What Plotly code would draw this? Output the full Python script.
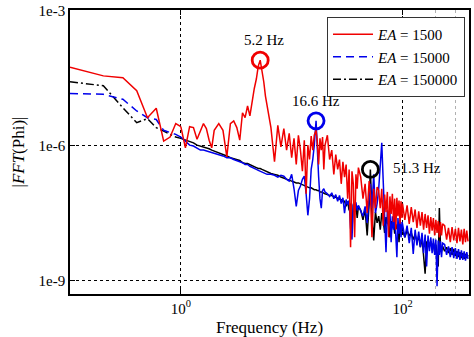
import math
import plotly.graph_objects as go

# Frequency grid (Hz) shared by the three spectra
freq_hz = [
    0.1, 0.2, 0.3, 0.4, 0.5, 0.6, 0.7, 0.8, 0.9, 1.0,
    1.1, 1.2, 1.3, 1.4, 1.5, 1.6, 1.7, 1.8, 1.9, 2.0,
    2.2, 2.4, 2.6, 2.8, 3.0, 3.2, 3.4, 3.6, 3.8, 4.0,
    4.2, 4.4, 4.6, 4.8, 5.0, 5.2, 5.4, 5.6, 5.8, 6.0,
    6.5, 7, 7.5, 8, 8.5, 9, 9.5, 10, 10.5, 11, 11.5, 12, 12.5, 13,
    13.5, 14, 14.5, 15, 15.5, 16, 16.6, 17, 17.5, 18, 18.5, 19, 19.5, 20,
    21, 22, 23, 24, 25, 26, 27, 28, 29, 30,
    31, 32, 33, 34, 35, 36, 37, 38, 39, 40,
    42, 44, 46, 48, 50, 51.3, 53, 55, 57, 59,
    61, 63, 65, 67, 69, 71, 73, 75, 77, 79,
    81, 83, 85, 87, 89, 91, 93, 95, 97, 99,
    100, 105, 110, 115, 120, 125, 130, 135, 140, 145, 150, 155, 160, 165,
    170, 175, 180, 185, 190, 195, 200, 205, 210, 215, 220, 225, 230,
    240, 250, 260, 270, 280, 290, 300, 310, 320, 330, 340, 350, 360, 370, 380, 390,
]

# log10 |FFT(Phi)| for each cable stiffness EA
log_fft_ea1500 = [
    -4.26, -4.45, -4.49, -4.78, -5.38, -5.17, -5.90, -5.81, -5.51, -5.58,
    -6.05, -5.58, -5.60, -5.86, -5.66, -5.51, -5.62, -5.88, -6.05, -5.66,
    -5.51, -5.66, -6.25, -5.51, -5.45, -5.60, -5.88, -5.27, -5.38, -5.12,
    -5.34, -5.01, -4.73, -4.52, -4.23, -4.10, -4.32, -4.58, -4.90, -5.12,
    -5.60, -6.36, -5.55, -6.03, -5.62, -6.10, -5.73, -6.27, -5.84, -6.42, -5.77, -6.10, -6.57, -5.88,
    -7.07, -5.99, -6.31, -5.79, -6.10, -5.77, -5.66, -5.88, -6.42, -5.84, -6.10, -5.81, -6.53, -5.99,
    -5.77, -6.31, -6.10, -6.64, -6.20, -6.53, -6.31, -6.85, -6.36, -6.70,
    -6.42, -7.18, -6.53, -8.26, -6.57, -6.85, -8.04, -6.64, -6.96, -6.49,
    -6.70, -7.18, -6.85, -7.50, -6.79, -7.07, -8.04, -6.96, -7.39, -6.92,
    -7.00, -7.39, -6.96, -7.78, -7.09, -7.48, -7.03, -8.04, -7.13, -7.52,
    -7.07, -7.70, -7.18, -7.87, -7.16, -7.57, -7.22, -7.74, -7.24, -7.61,
    -7.29, -7.65, -7.33, -7.74, -7.37, -7.70, -7.42, -7.83, -7.46, -7.78, -7.48, -7.87, -7.52, -7.83,
    -7.55, -7.96, -7.59, -7.89, -7.61, -8.00, -7.65, -7.94, -7.68, -8.04, -7.70, -8.00, -7.74,
    -7.78, -8.09, -7.83, -8.15, -7.81, -8.11, -7.85, -8.17, -7.83, -8.13, -7.87, -8.20, -7.85, -8.15, -7.89, -8.13,
]

log_fft_ea15000 = [
    -4.84, -4.86, -4.97, -5.23, -5.38, -5.42, -5.66, -5.71, -5.75, -5.81,
    -5.90, -5.99, -6.01, -6.05, -6.10, -6.10, -6.12, -6.14, -6.16, -6.16,
    -6.20, -6.23, -6.27, -6.27, -6.31, -6.33, -6.36, -6.38, -6.42, -6.42,
    -6.46, -6.49, -6.51, -6.53, -6.55, -6.57, -6.59, -6.62, -6.64, -6.64,
    -6.64, -6.66, -6.70, -6.66, -6.68, -6.75, -6.79, -6.64, -6.96, -7.35, -7.00, -6.90, -6.75, -6.68,
    -7.07, -7.55, -7.18, -6.53, -6.31, -5.99, -5.45, -6.10, -6.68, -7.18, -7.39, -7.00, -6.96, -7.03,
    -7.07, -7.13, -7.05, -7.18, -7.09, -7.24, -7.11, -7.29, -7.16, -7.50,
    -7.20, -7.31, -7.22, -7.83, -8.09, -7.29, -7.39, -7.26, -7.44, -7.33,
    -7.44, -7.57, -7.35, -7.72, -7.18, -6.85, -7.39, -6.64, -7.50, -7.29,
    -6.96, -6.53, -5.94, -6.79, -7.65, -8.37, -7.44, -7.78, -7.48, -8.15,
    -7.57, -7.87, -7.52, -7.91, -8.48, -7.61, -7.96, -7.65, -8.04, -7.70,
    -7.74, -8.04, -7.78, -8.17, -7.83, -8.41, -7.87, -8.22, -7.91, -8.26, -7.94, -8.39, -7.98, -8.69,
    -8.00, -8.35, -8.04, -8.39, -8.07, -8.43, -8.09, -9.13, -8.11, -8.43, -8.13, -8.48, -8.17,
    -8.20, -8.43, -8.24, -8.48, -8.26, -8.50, -8.28, -8.52, -8.30, -8.54, -8.33, -8.54, -8.35, -8.56, -8.37, -8.52,
]

log_fft_ea150000 = [
    -4.58, -4.67, -5.16, -5.49, -5.40, -5.60, -5.68, -5.75, -5.81, -5.84,
    -5.88, -5.92, -5.94, -5.99, -6.01, -6.03, -6.05, -6.07, -6.10, -6.12,
    -6.16, -6.20, -6.23, -6.27, -6.29, -6.31, -6.33, -6.38, -6.40, -6.40,
    -6.42, -6.44, -6.46, -6.49, -6.51, -6.51, -6.53, -6.55, -6.57, -6.57,
    -6.62, -6.64, -6.66, -6.70, -6.72, -6.75, -6.77, -6.79, -6.81, -6.83, -6.83, -6.85, -6.88, -6.90,
    -6.90, -6.92, -6.94, -6.94, -6.96, -6.98, -6.98, -7.00, -7.00, -7.03, -7.03, -7.05, -7.05, -7.07,
    -7.09, -7.11, -7.11, -7.13, -7.16, -7.18, -7.18, -7.20, -7.22, -7.24,
    -7.35, -7.24, -7.44, -7.29, -7.87, -7.31, -7.48, -7.33, -7.61, -7.35,
    -7.44, -7.65, -7.42, -8.00, -7.29, -6.53, -7.50, -8.11, -7.48, -7.72,
    -7.57, -7.87, -7.50, -7.65, -7.94, -7.59, -7.74, -7.63, -8.04, -7.68,
    -7.78, -7.70, -7.96, -7.74, -7.85, -7.76, -8.15, -7.81, -7.89, -7.83,
    -7.87, -8.04, -7.89, -8.00, -7.94, -8.09, -7.98, -8.13, -8.02, -8.26, -8.04, -8.52, -8.85, -8.15,
    -8.11, -8.24, -8.13, -8.28, -8.17, -8.37, -8.20, -8.43, -8.69, -7.39, -8.22, -8.35, -8.24,
    -8.35, -8.26, -8.39, -8.28, -8.43, -8.30, -8.45, -8.35, -8.48, -8.37, -8.50, -8.39, -8.52, -8.41, -8.50, -8.43,
]

# Dominant peak of each spectrum (Hz)
peak_freqs = [5.2, 16.6, 51.3]
peak_texts = ["5.2 Hz", "16.6 Hz", "51.3 Hz"]

# Decade ticks on the amplitude axis
y_tick_vals = [1e-9, 1e-6, 1e-3]
y_tick_text = ["1e-9", "1e-6", "1e-3"]

amp_ea1500 = [10 ** v for v in log_fft_ea1500]
amp_ea15000 = [10 ** v for v in log_fft_ea15000]
amp_ea150000 = [10 ** v for v in log_fft_ea150000]

RED = "rgb(240,0,0)"
BLUE = "rgb(0,0,235)"
BLACK = "rgb(0,0,0)"
FONT = "Liberation Serif, Times New Roman, serif"

# Dash patterns only read as dashes on the sparse low-frequency part;
# the dense part of the spectrum is drawn as a continuous stroke.
split = freq_hz.index(1.0) + 1

fig = go.Figure()


def add_spectrum(amps, name, color, dash, rank):
    fig.add_trace(go.Scatter(
        x=freq_hz[:split], y=amps[:split], mode="lines", name=name,
        legendgroup=name, legendrank=rank,
        line=dict(color=color, width=1.5, dash=dash),
    ))
    fig.add_trace(go.Scatter(
        x=freq_hz[split - 1:], y=amps[split - 1:], mode="lines", name=name,
        legendgroup=name, showlegend=False,
        line=dict(color=color, width=1.5, dash="solid"),
    ))


# Stiffest cable drawn first so the softer spectra sit on top of it
add_spectrum(amp_ea150000, "<i>EA</i> = 150000", BLACK, "8px,3px,2px,3px", 3)
add_spectrum(amp_ea15000, "<i>EA</i> = 15000", BLUE, "8px,5px", 2)
add_spectrum(amp_ea1500, "<i>EA</i> = 1500", RED, "solid", 1)

# Circle each dominant peak and label its frequency
series = [(amp_ea1500, RED), (amp_ea15000, BLUE), (amp_ea150000, BLACK)]
label_shift = [(4, 20), (0, 20), (47, 1)]
for f, txt, (amps, col), (dx, dy) in zip(peak_freqs, peak_texts, series, label_shift):
    a = amps[freq_hz.index(f)]
    fig.add_trace(go.Scatter(
        x=[f], y=[a], mode="markers", showlegend=False, hoverinfo="skip",
        marker=dict(symbol="circle-open", size=16, color=col, line=dict(width=2.8, color=col)),
    ))
    fig.add_annotation(
        x=math.log10(f), y=math.log10(a), text=txt, showarrow=False,
        xshift=dx, yshift=dy, font=dict(family=FONT, size=15, color="black"),
    )

fig.update_layout(
    width=474, height=337,
    margin=dict(l=70, r=3, t=7, b=39),
    paper_bgcolor="white", plot_bgcolor="white",
    font=dict(family=FONT, size=15, color="black"),
    legend=dict(
        x=0.99, y=0.975, xanchor="right", yanchor="top",
        bgcolor="white", bordercolor="#333333", borderwidth=1,
        font=dict(family=FONT, size=15), tracegroupgap=0, itemwidth=40,
    ),
    xaxis=dict(
        type="log", range=[-1, 2.6],
        tickvals=[1, 100], ticktext=["10<sup>0</sup>", "10<sup>2</sup>"],
        ticks="inside", ticklen=5, tickcolor="black", tickwidth=1,
        showline=True, linecolor="black", linewidth=1.5, mirror="ticks",
        showgrid=True, gridcolor="black", griddash="dot", gridwidth=1.2,
        zeroline=False,
        minor=dict(tickvals=[200, 300], showgrid=True, gridcolor="#b0b0b0",
                   griddash="dot", gridwidth=1.2, ticks=""),
        title=dict(text="Frequency (Hz)", font=dict(family=FONT, size=17), standoff=5),
    ),
    yaxis=dict(
        type="log", range=[-9.3, -2.985],
        tickvals=y_tick_vals, ticktext=y_tick_text,
        ticks="inside", ticklen=5, tickcolor="black", tickwidth=1,
        showline=True, linecolor="black", linewidth=1.5, mirror="ticks",
        showgrid=True, gridcolor="black", griddash="dot", gridwidth=1.2,
        zeroline=False, ticklabeloverflow="allow",
        title=dict(text="|<i>FFT</i>(Phi)|", font=dict(family=FONT, size=17), standoff=10),
    ),
)

fig.write_html("out.html")
